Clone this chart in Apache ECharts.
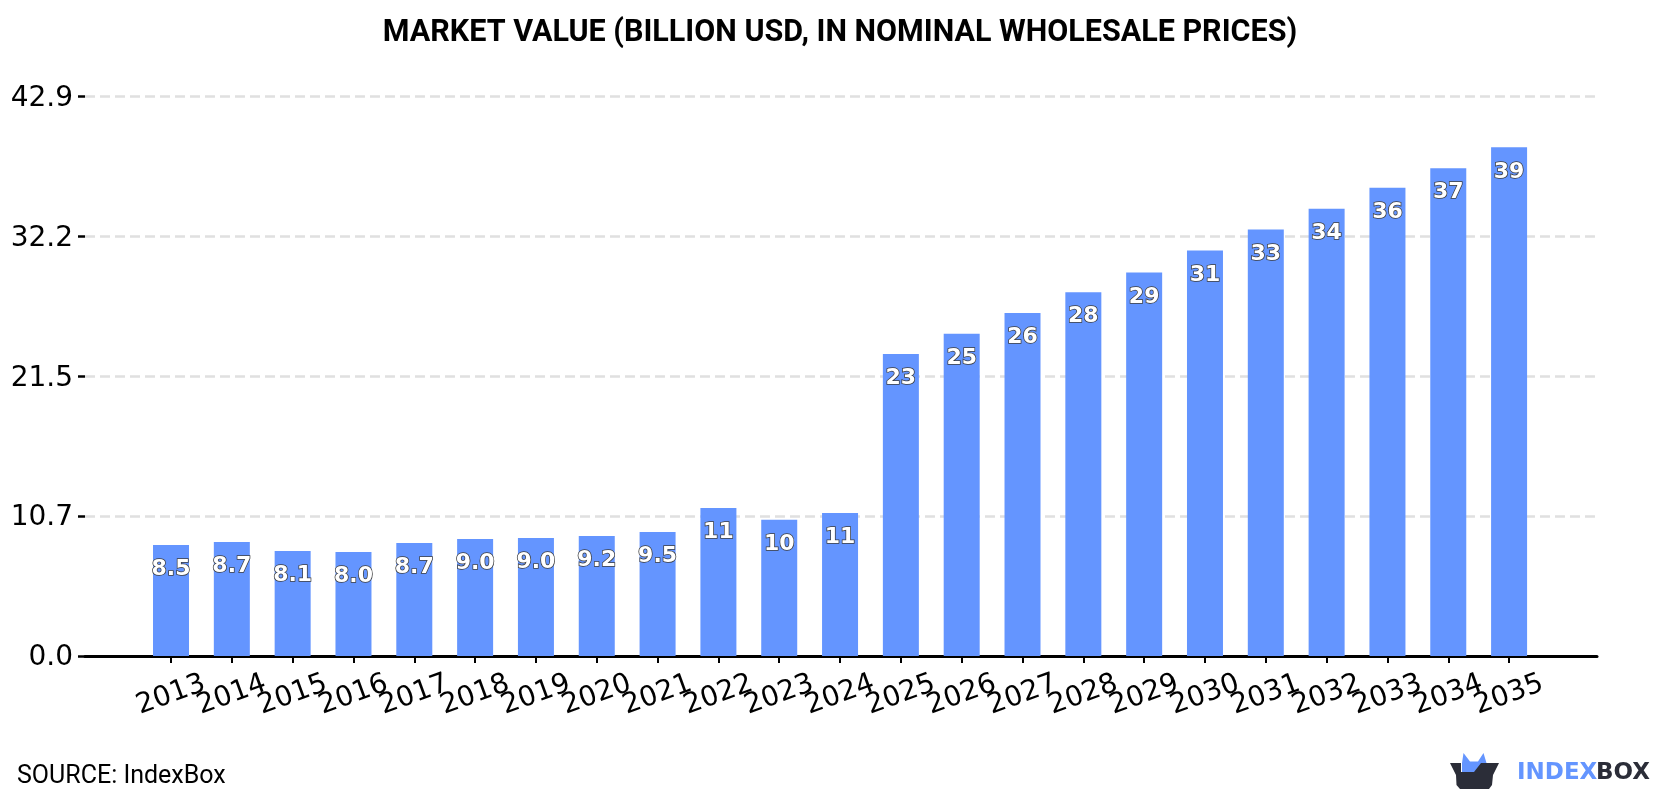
<!DOCTYPE html>
<html>
<head>
<meta charset="utf-8">
<style>html,body{margin:0;padding:0;background:#fff}#chart{width:1680px;height:800px}</style>
<script src="https://cdn.jsdelivr.net/npm/echarts@6/dist/echarts.min.js"></script>
</head>
<body>
<div id="chart"></div>
<script>
// Market value by year, billion USD
const years = ['2013','2014','2015','2016','2017','2018','2019','2020','2021','2022','2023','2024','2025','2026','2027','2028','2029','2030','2031','2032','2033','2034','2035'];
const marketValue = [8.51,8.74,8.06,7.97,8.67,8.97,9.04,9.2,9.51,11.35,10.45,10.97,23.16,24.7,26.3,27.9,29.4,31.1,32.7,34.3,35.9,37.4,39.0];
const yTickLabels = ['0.0','10.7','21.5','32.2','42.9'];
const yMax = 42.9;
const yStep = 10.725;

const chart = echarts.init(document.getElementById('chart'), null, {renderer: 'canvas'});

// Figures below ten keep one decimal, larger ones are whole numbers
const formatValue = v => v < 10 ? v.toFixed(1) : String(Math.round(v));

chart.setOption({
  animation: false,
  backgroundColor: '#fff',
  title: {
    text: 'MARKET VALUE (BILLION USD, IN NOMINAL WHOLESALE PRICES)',
    left: 'center', top: 13,
    textStyle: {fontFamily: 'Roboto', fontWeight: 'bold', fontSize: 30.5, color: '#000'}
  },
  grid: [
    {left: 85, right: 83, top: 96.5, bottom: 144},
    {left: 140.6, width: 1398.9, top: 96.5, bottom: 144}
  ],
  xAxis: [
    {
      gridIndex: 0, type: 'value', min: 0, max: 1,
      axisLabel: {show: false}, axisTick: {show: false}, splitLine: {show: false},
      axisLine: {show: true, lineStyle: {color: '#000', width: 3}}
    },
    {
      gridIndex: 1, type: 'category', data: years,
      axisLine: {show: false},
      axisTick: {show: true, alignWithLabel: true, length: 7, lineStyle: {color: '#000', width: 2}},
      axisLabel: {
        interval: 0, rotate: 20, align: 'center', verticalAlign: 'middle', margin: 39, hideOverlap: false,
        fontFamily: 'DejaVu Sans', fontSize: 28, color: '#000'
      }
    }
  ],
  yAxis: [
    {
      gridIndex: 0, type: 'value', min: 0, max: yMax, interval: yStep,
      axisLine: {show: false},
      axisTick: {show: true, length: 7, lineStyle: {color: '#000', width: 2.5}},
      axisLabel: {
        margin: 12, color: '#000',
        formatter: (v, i) => '{t|' + yTickLabels[i] + '}',
        rich: {t: {fontFamily: 'DejaVu Sans', fontSize: 28, color: '#000', padding: [4, 0, 0, 0]}}
      },
      splitLine: {show: true, lineStyle: {color: '#e0e0e0', width: 2.5, type: [10, 5]}}
    },
    {
      gridIndex: 1, type: 'value', min: 0, max: yMax, interval: yStep,
      axisLine: {show: false}, axisTick: {show: false}, axisLabel: {show: false}, splitLine: {show: false}
    }
  ],
  series: [{
    type: 'bar', xAxisIndex: 1, yAxisIndex: 1, data: marketValue, barWidth: 36,
    itemStyle: {color: '#6495ff'},
    label: {
      show: true, position: 'insideTop', distance: 13.5,
      fontFamily: 'DejaVu Sans', fontWeight: 'bold', fontSize: 22, color: '#fff',
      textBorderColor: '#3c3c3c', textBorderWidth: 1.5,
      formatter: p => formatValue(p.value)
    }
  }],
  graphic: [
    {type: 'text', left: 17, top: 764, style: {text: 'SOURCE: IndexBox', fontFamily: 'Roboto', fontSize: 25, fill: '#000'}},
    // IndexBox logo: open box with a blue crown
    {type: 'polygon', shape: {points: [[1462,763],[1463.5,753],[1470,761.5],[1478,761.5],[1483.5,753],[1486.5,763],[1482,766],[1474,775],[1462,775]]}, style: {fill: '#6495ff'}},
    {type: 'polygon', shape: {points: [[1450,763],[1461,763],[1461,772],[1474,772],[1481,763],[1499,763],[1493,775],[1492,785],[1489,789],[1460,789],[1456.5,785],[1456,775]]}, style: {fill: '#2b2d38'}},
    {type: 'text', left: 1517, top: 762, style: {text: 'INDEX', fontFamily: 'DejaVu Sans', fontWeight: 'bold', fontSize: 23, fill: '#6495ff'}},
    {type: 'text', left: 1596, top: 762, style: {text: 'BOX', fontFamily: 'DejaVu Sans', fontWeight: 'bold', fontSize: 23, fill: '#2b2d38'}}
  ]
});
</script>
</body>
</html>
